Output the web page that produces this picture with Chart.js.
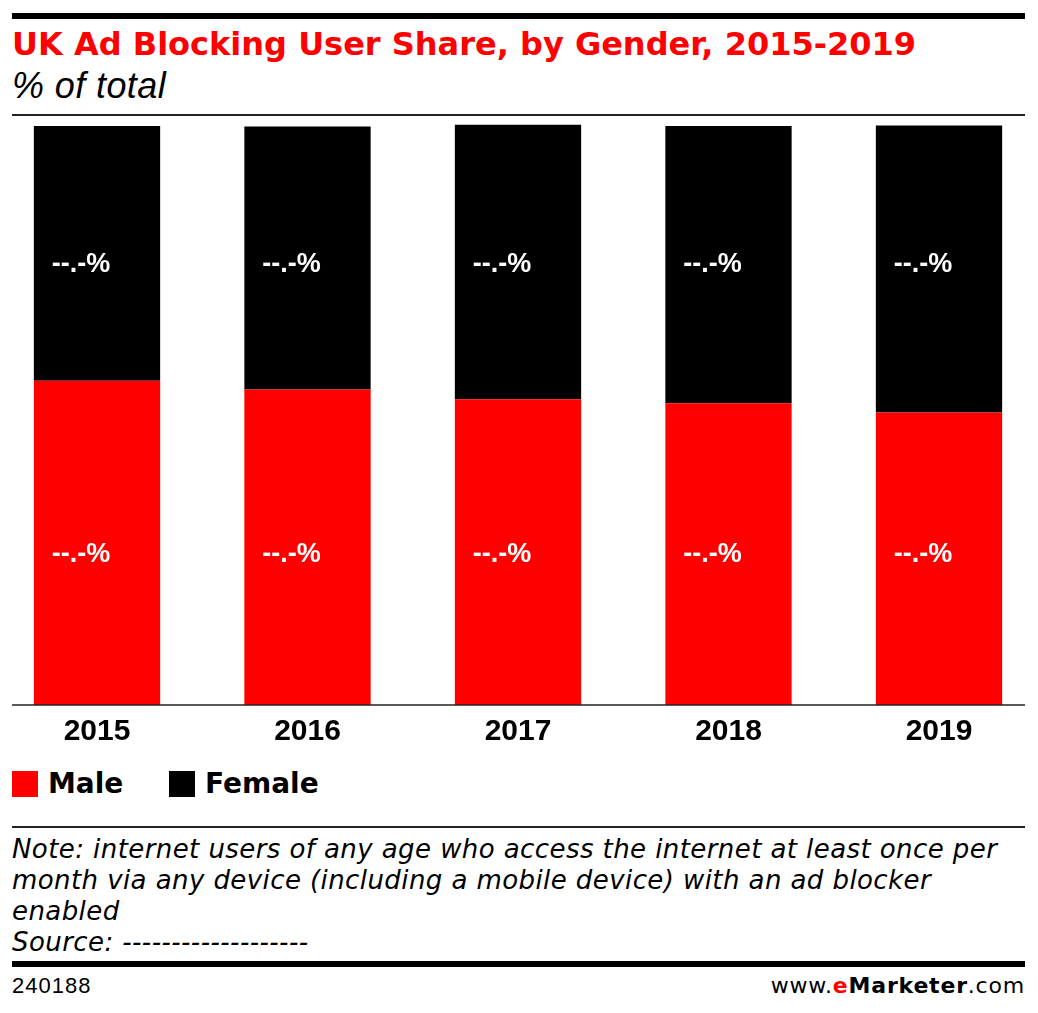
<!DOCTYPE html>
<html>
<head>
<meta charset="utf-8">
<script src="https://cdn.jsdelivr.net/npm/chart.js@4.4.0/dist/chart.umd.min.js"></script>
<style>
    html, body { margin: 0; padding: 0; background: #fff; }
    body { width: 1038px; height: 1013px; position: relative; overflow: hidden; font-family: 'Liberation Sans', Arial, sans-serif; color: #000; }
    .abs { position: absolute; }
    .rule { position: absolute; left: 12px; width: 1013px; background: #000; }
    #title { left: 12px; top: 26px; font-family: 'DejaVu Sans', sans-serif; font-size: 32px; line-height: 36px; font-weight: bold; color: #ff0000; white-space: nowrap; }
    #subtitle { left: 12px; top: 68px; font-size: 36px; line-height: 36px; font-style: italic; letter-spacing: 0.4px; white-space: nowrap; }
    #chart-wrap { position: absolute; left: 0; top: 115px; width: 1038px; height: 644px; }
    .legend-box { position: absolute; width: 26px; height: 26px; top: 771px; }
    .legend-text { position: absolute; top: 768px; font-family: 'DejaVu Sans', sans-serif; font-size: 28px; line-height: 32px; font-weight: bold; white-space: nowrap; }
    #note { left: 12px; top: 834px; font-family: 'DejaVu Sans', sans-serif; font-size: 26px; line-height: 31px; font-style: italic; letter-spacing: 0.42px; white-space: nowrap; }
    #code { left: 12px; top: 975px; font-size: 22px; line-height: 22px; letter-spacing: 1px; white-space: nowrap; }
    #brand { right: 13px; top: 973px; font-family: 'DejaVu Sans', sans-serif; font-size: 22px; line-height: 26px; letter-spacing: 0.8px; white-space: nowrap; }
</style>
</head>
<body>
<div class="rule" style="top:13px;height:6px"></div>
<div id="title" class="abs">UK Ad Blocking User Share, by Gender, 2015-2019</div>
<div id="subtitle" class="abs">% of total</div>
<div class="rule" style="top:114px;height:2px;background:#222"></div>

<div id="chart-wrap"><canvas id="chart-bar"></canvas></div>

<div class="legend-box" style="left:12px;background:#ff0000"></div>
<div class="legend-text" style="left:48px">Male</div>
<div class="legend-box" style="left:169px;background:#000"></div>
<div class="legend-text" style="left:205px">Female</div>

<div class="rule" style="top:826px;height:2px;background:#222"></div>
<div id="note" class="abs">Note: internet users of any age who access the internet at least once per<br>month via any device (including a mobile device) with an ad blocker<br>enabled<br>Source: -------------------</div>
<div class="rule" style="top:961px;height:6px"></div>
<div id="code" class="abs">240188</div>
<div id="brand" class="abs">www.<b style="color:#ff0000">e</b><b>Marketer</b>.com</div>

<script>
// ── 資料 ──
const YEARS = ['2015', '2016', '2017', '2018', '2019'];
const MALE = [56.0, 54.5, 52.8, 52.1, 50.5];
const FEMALE = [44.0, 45.4, 47.4, 47.9, 49.6];
const LABEL_TEXT = '--.-%';

// 軸線（左右延伸到版面邊緣）
const axisLinePlugin = {
    id: 'axisLine',
    afterDatasetsDraw(chart) {
        const { ctx, chartArea } = chart;
        ctx.save();
        ctx.strokeStyle = '#222';
        ctx.lineWidth = 1.5;
        ctx.beginPath();
        ctx.moveTo(12, chartArea.bottom);
        ctx.lineTo(1025, chartArea.bottom);
        ctx.stroke();
        ctx.restore();
    },
};

// 白色數值標籤（固定高度）
const valueLabelPlugin = {
    id: 'valueLabels',
    afterDatasetsDraw(chart) {
        const { ctx } = chart;
        const yScale = chart.scales.y;
        const levels = [26.0, 76.1];
        ctx.save();
        ctx.fillStyle = '#fff';
        ctx.font = 'bold 27px "Liberation Sans", Arial, sans-serif';
        ctx.textAlign = 'left';
        ctx.textBaseline = 'middle';
        chart.data.datasets.forEach((ds, i) => {
            const y = yScale.getPixelForValue(levels[i]);
            chart.getDatasetMeta(i).data.forEach(bar => {
                ctx.fillText(LABEL_TEXT, bar.x - bar.width / 2 + 18, y);
            });
        });
        ctx.restore();
    },
};

const barCtx = document.getElementById('chart-bar').getContext('2d');
new Chart(barCtx, {
    type: 'bar',
    data: {
        labels: YEARS,
        datasets: [
            { label: 'Male', data: MALE, backgroundColor: '#ff0000', borderWidth: 0 },
            { label: 'Female', data: FEMALE, backgroundColor: '#000000', borderWidth: 0 },
        ],
    },
    options: {
        responsive: true,
        maintainAspectRatio: false,
        animation: false,
        layout: { padding: { top: 11, left: 97, right: 99, bottom: 0 } },
        datasets: { bar: { barPercentage: 0.6, categoryPercentage: 1, clip: false } },
        plugins: { legend: { display: false }, tooltip: { enabled: false } },
        scales: {
            x: {
                stacked: true,
                offset: false,
                border: { display: false },
                grid: { display: false, drawTicks: false },
                ticks: {
                    color: '#000',
                    padding: 9,
                    font: { family: '"Liberation Sans", Arial, sans-serif', size: 30, weight: 'bold' },
                },
            },
            y: {
                stacked: true,
                display: false,
                min: 0,
                max: 100,
            },
        },
    },
    plugins: [axisLinePlugin, valueLabelPlugin],
});
</script>
</body>
</html>
